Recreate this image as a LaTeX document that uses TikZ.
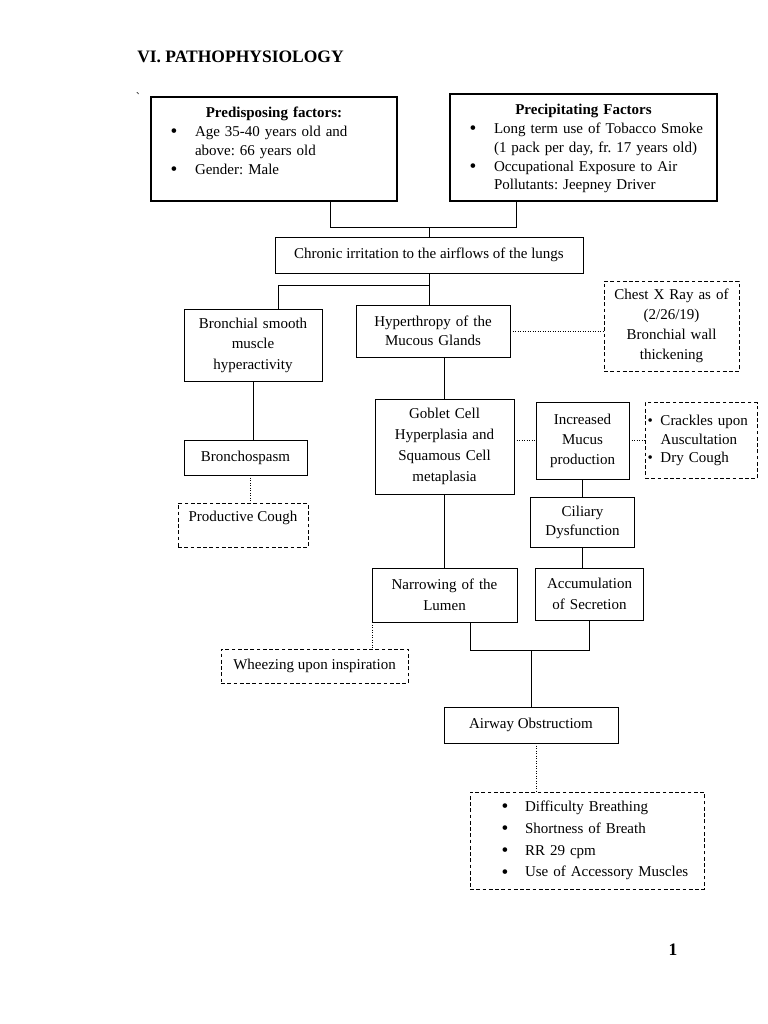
\documentclass[tikz,border=0pt]{standalone}
\usepackage{fontspec}
\setmainfont{Liberation Serif}
\usepackage{tikz}
\usetikzlibrary{positioning}
\tikzstyle{process} = [rectangle, draw=black, line width=0.8pt, outer sep=0pt, inner xsep=4pt, inner ysep=3pt, text centered, font=\fontsize{12}{16}\selectfont]
\tikzstyle{factor} = [process, line width=1.1pt, align=left, inner ysep=8.4pt, font=\fontsize{12}{15}\selectfont]
\tikzstyle{finding} = [process, dash pattern=on 3pt off 2pt]
\tikzstyle{link} = [line width=0.8pt]
\tikzstyle{dotlink} = [line width=0.8pt, dash pattern=on 0.8pt off 1.2pt]
\newcommand{\bigbul}{\raisebox{-0.9pt}{\fontsize{15.5}{15.5}\selectfont\textbullet}}
\newcommand{\bul}{\hspace*{11.6pt}\makebox[19.6pt][l]{\bigbul}}
\newcommand{\cont}{\hspace*{31.2pt}}
\newcommand{\sbul}{\hspace*{21.2pt}\makebox[18.8pt][l]{\bigbul}}
\frenchspacing
\begin{document}
\begin{tikzpicture}[node distance=20pt]
        \useasboundingbox (0pt,0pt) rectangle (614.4pt,-819.2pt);
        \node (title) [anchor=west, inner sep=0pt, font=\fontsize{14}{17}\selectfont\bfseries] at (109.6pt,-45.6pt) {VI. PATHOPHYSIOLOGY};
        \node (tick) at (110.4pt,-78pt) {\textasciigrave};
        \node (pre) [factor, text width=188.8pt, text depth=58.2pt] at (219.2pt,-119.2pt) {\makebox[\linewidth]{\textbf{Predisposing factors:}}\\\bul Age 35-40 years old and\\\cont above: 66 years old\\\bul Gender: Male};
        \node (prec) [factor, right=42.4pt of pre, yshift=1.2pt, text width=205.6pt, text depth=60.6pt] {\makebox[\linewidth]{\textbf{Precipitating Factors}}\\\bul Long term use of Tobacco Smoke\\\cont (1 pack per day, fr. 17 years old)\\\bul Occupational Exposure to Air\\\cont Pollutants: Jeepney Driver};
        \node (chronic) [process, below=28.8pt of pre, xshift=124pt, minimum width=246.4pt, minimum height=28.8pt] {Chronic irritation to the airflows of the lungs};
        \node (hyper) [process, below=25.6pt of chronic, xshift=3.2pt, text width=115.2pt, minimum height=41.6pt, font=\fontsize{12}{15.2}\selectfont] {Hyperthropy of the\\Mucous Glands};
        \node (bsm) [process, left=27.2pt of hyper, yshift=-11.2pt, text width=102.4pt, minimum height=57.6pt, font=\fontsize{12}{16.4}\selectfont] {Bronchial smooth\\muscle\\hyperactivity};
        \node (xray) [finding, right=75.2pt of hyper, yshift=4pt, text width=100pt, minimum height=72pt] {Chest X Ray as of\\(2/26/19)\\Bronchial wall\\thickening};
        \node (goblet) [process, below=33.6pt of hyper, xshift=9.2pt, text width=103.2pt, minimum height=76pt, font=\fontsize{12}{16.8}\selectfont] {Goblet Cell\\Hyperplasia and\\Squamous Cell\\metaplasia};
        \node (mucus) [process, right=17.6pt of goblet, yshift=4.8pt, text width=66.4pt, minimum height=61.6pt] {Increased\\Mucus\\production};
        \node (crackles) [finding, right=12.8pt of mucus, text width=85.6pt, inner xsep=2pt, minimum height=60.8pt, align=left, font=\fontsize{12}{15}\selectfont] {\makebox[10.4pt][l]{\textbullet}Crackles upon\\\hspace*{10.4pt}Auscultation\\\makebox[10.4pt][l]{\textbullet}Dry Cough};
        \node (ciliary) [process, below=14.4pt of mucus, text width=75.2pt, minimum height=40pt, font=\fontsize{12}{15.2}\selectfont] {Ciliary\\Dysfunction};
        \node (spasm) [process, below=47.2pt of bsm, xshift=-6pt, minimum width=98.4pt, minimum height=28pt] {Bronchospasm};
        \node (cough) [finding, below=22.4pt of spasm, xshift=-2pt, minimum width=104pt, inner ysep=6pt, text depth=15pt] {Productive Cough};
        \node (narrow) [process, below=59.2pt of goblet, text width=108pt, minimum height=43.2pt, font=\fontsize{12}{16.8}\selectfont] {Narrowing of the\\Lumen};
        \node (accum) [process, below=16.8pt of ciliary, xshift=5.6pt, text width=78.4pt, minimum height=41.6pt, font=\fontsize{12}{16.8}\selectfont] {Accumulation\\of Secretion};
        \node (wheeze) [finding, below=21.6pt of narrow, xshift=-104pt, minimum width=149.6pt, minimum height=27.2pt] {Wheezing upon inspiration};
        \node (airway) [process, below=68pt of narrow, xshift=69.2pt, minimum width=139.2pt, minimum height=28.8pt] {Airway Obstructiom};
        \node (symptoms) [finding, below=39.2pt of airway, xshift=44.8pt, text width=179.2pt, minimum height=77.6pt, align=left, font=\fontsize{12}{17.4}\selectfont] {\sbul Difficulty Breathing\\\sbul Shortness of Breath\\\sbul RR 29 cpm\\\sbul Use of Accessory Muscles};
        \node (pagenum) [font=\fontsize{14}{17}\selectfont\bfseries] at (538.4pt,-760pt) {1};

        \coordinate (j1) at ([yshift=8pt]chronic.north);
        \coordinate (j2) at ([yshift=-9.6pt]chronic.south);
        \coordinate (j3) at ([yshift=45.6pt]airway.north);
        \draw [link] ([xshift=44.8pt]pre.south) |- (j1) -| ([xshift=-54pt]prec.south);
        \draw [link] (j1) -- (chronic.north);
        \draw [link] (chronic.south) -- (j2) -| ([xshift=20pt]bsm.north);
        \draw [link] (j2) -- (j2 |- hyper.north);
        \draw [dotlink] (hyper.east) -- (hyper.east -| xray.west);
        \draw [link] (hyper.south -| goblet.north) -- (goblet.north);
        \draw [dotlink] (goblet.east |- mucus.west) -- (mucus.west);
        \draw [dotlink] (mucus.east) -- (crackles.west |- mucus.east);
        \draw [link] (mucus.south) -- (mucus.south |- ciliary.north);
        \draw [link] (bsm.south) -- (bsm.south |- spasm.north);
        \draw [dotlink] ([xshift=4pt]spasm.south) -- ([xshift=4pt]spasm.south |- cough.north);
        \draw [link] (goblet.south) -- (goblet.south |- narrow.north);
        \draw [link] (ciliary.south) -- (ciliary.south |- accum.north);
        \draw [link] ([xshift=20.4pt]narrow.south) |- (j3) -| (accum.south);
        \draw [link] (j3) -- (airway.north);
        \draw [dotlink] (narrow.south west) -- (narrow.south west |- wheeze.north);
        \draw [dotlink] ([xshift=4pt]airway.south) -- ([xshift=4pt]airway.south |- symptoms.north);

\end{tikzpicture}
\end{document}
